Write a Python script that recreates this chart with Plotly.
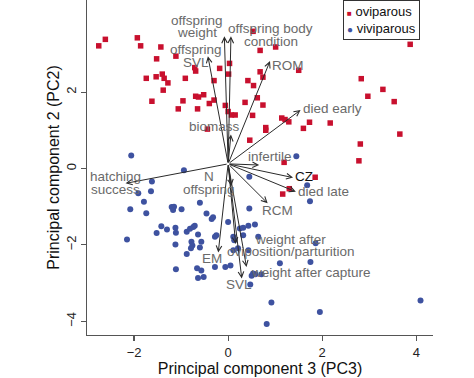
import plotly.graph_objects as go

# ---------------- data ----------------
ovi_x = [-2.75, -2.61, -1.93, -1.86, -1.43, -1.52, -1.11, -1.74, -1.53, -1.40,
         -1.36, -1.28, -1.38, -1.62, -0.96, -1.06, -0.91, -0.71, -0.69, -0.69,
         -0.63, -0.52, -0.65, -0.40, -0.30, -0.30, -0.18, 0.03, 0.01, -0.06,
         0.00, 0.07, 0.15, 0.53, 0.68, 1.01, 0.68, 0.74, 0.42, 0.54,
         0.62, 0.36, 0.74, 0.52, 1.14, 1.21, 1.29, 0.80, 0.80, -0.44,
         0.46, 1.50, 3.87, 2.83, 3.29, 2.97, 3.53, 1.73, 2.17, 1.60,
         3.65, 2.81, 2.78, 1.19, 1.85, 1.30, 1.16]
ovi_y = [3.21, 3.38, 3.42, 3.21, 3.18, 2.87, 2.94, 2.36, 2.40, 2.47,
         2.36, 2.24, 2.05, 1.76, 1.77, 1.56, 2.36, 2.64, 2.55, 1.89,
         1.87, 1.93, 1.56, 1.70, 1.79, 2.30, 2.62, 2.75, 2.47, 1.65,
         1.49, 1.40, 1.40, 3.59, 3.09, 3.18, 2.53, 2.39, 2.30, 2.17,
         1.85, 1.73, 1.66, 1.39, 1.32, 1.28, 1.22, 1.07, 1.00, 1.03,
         0.74, 2.57, 3.25, 2.35, 2.07, 1.89, 1.75, 1.21, 1.19, 1.05,
         0.90, 0.64, 0.20, 0.16, -0.23, -0.53, -0.67]

vivi_x = [-2.06, -0.94, -1.62, -1.91, -1.64, -1.79, -2.08, -1.74, -1.20, -1.15,
          -1.17, -0.99, -0.60, -0.46, -0.35, -0.32, 0.00, 0.45, 0.45, -1.42,
          -1.30, -1.12, -1.11, -0.88, -0.81, -0.74, -0.71, -0.64, -1.52, -2.15,
          -1.12, -0.78, -0.76, -0.79, -0.88, -0.57, -0.60, -0.25, -0.28, 0.25,
          0.32, 0.43, 0.57, 0.11, 0.13, 0.32, 0.64, 0.11, 0.43, -1.11,
          -0.66, -0.57, -0.64, -0.52, -0.28, -0.06, 0.05, 0.53, 0.50, 0.71,
          0.58, 0.47, 1.10, 0.92, 0.82, 1.45, 1.68, 1.74, 1.86, 1.75,
          1.95, 4.09, 0.21]
vivi_y = [0.34, -0.05, -0.34, -0.65, -0.60, -0.87, -1.07, -1.17, -1.01, -1.00,
          -1.09, -1.07, -0.90, -1.18, -1.32, -1.28, -1.40, -1.05, -0.22, -1.51,
          -1.60, -1.55, -1.68, -1.66, -1.58, -1.53, -1.50, -1.73, -1.69, -1.86,
          -1.99, -1.92, -2.02, -2.09, -2.24, -1.92, -2.07, -1.75, -1.79, -1.57,
          -1.55, -1.50, -1.47, -1.79, -1.88, -1.75, -1.79, -2.14, -2.14, -2.64,
          -2.61, -2.67, -2.87, -2.84, -2.58, -2.58, -2.54, -2.75, -2.81, -2.77,
          -2.77, -3.04, -2.48, -3.51, -4.07, 0.32, -0.44, -0.86, -1.96, -2.45,
          -3.76, -3.46, -2.09]

loading_names = ["offspring weight", "offspring body condition", "offspring SVL",
                 "ROM", "died early", "biomass", "infertile", "CZ", "died late",
                 "RCM", "hatching success", "N offspring", "EM",
                 "weight after oviposition/parturition", "weight after capture", "SVL"]
loading_x = [-0.08, 0.06, -0.43, 0.89, 1.54, 0.06, 0.66, 1.38, 1.44, 0.84,
             -2.18, 0.07, -0.21, 0.16, 0.39, 0.29]
loading_y = [3.46, 3.46, 2.94, 2.81, 1.53, 0.89, 0.09, -0.24, -0.61, -0.91,
             -0.39, -0.46, -2.20, -1.98, -2.58, -2.88]

label_lines = [["offspring", "weight"], ["offspring body", "condition"], ["offspring", "SVL"],
               ["ROM"], ["died early"], ["biomass"], ["infertile"], ["CZ"], ["died late"],
               ["RCM"], ["hatching", "success"], ["N", "offspring"], ["EM"],
               ["weight after", "oviposition/parturition"], ["weight after capture"], ["SVL"]]
label_x = [-0.67, 0.91, -0.68, 1.27, 2.22, -0.29, 0.89, 1.62, 2.03, 1.05,
           -2.39, -0.41, -0.35, 1.33, 1.77, 0.23]
label_y = [3.71, 3.50, 2.94, 2.70, 1.58, 1.11, 0.32, -0.22, -0.61, -1.10,
           -0.38, -0.38, -2.37, -2.02, -2.73, -3.05]

origin_x, origin_y = 0.0, 0.12

x_ticks = [-2, 0, 2, 4]
y_ticks = [-4, -2, 0, 2]

group_names = ["oviparous", "viviparous"]

# ---------------- styling ----------------
RED = "#c8102e"
BLUE = "#3e52a0"
FONT = "Arial, Liberation Sans, sans-serif"
GREY_TXT = "#6a6a6a"

fig = go.Figure()
fig.add_trace(go.Scatter(x=ovi_x, y=ovi_y, mode="markers", name=group_names[0],
                         marker=dict(symbol="square", size=5.5, color=RED)))
fig.add_trace(go.Scatter(x=vivi_x, y=vivi_y, mode="markers", name=group_names[1],
                         marker=dict(symbol="circle", size=6, color=BLUE)))

annotations = []
for name, lx, ly in zip(loading_names, loading_x, loading_y):
    annotations.append(dict(x=lx, y=ly, ax=origin_x, ay=origin_y, xref="x", yref="y",
                            axref="x", ayref="y", text="", showarrow=True,
                            arrowhead=5, arrowsize=1.1, arrowwidth=1,
                            arrowcolor="#2a2a2a", standoff=0, startstandoff=0))

LINE_GAP = 12.5
for lines, tx, ty in zip(label_lines, label_x, label_y):
    n = len(lines)
    for i, t in enumerate(lines):
        shift = ((n - 1) / 2 - i) * LINE_GAP
        annotations.append(dict(x=tx, y=ty, xref="x", yref="y", text=t, showarrow=False,
                                yshift=shift, xanchor="center", yanchor="middle",
                                font=dict(family=FONT, size=13.5,
                                          color="#111111" if t == "CZ" else GREY_TXT)))

# compact boxed legend (symbol + label), drawn as one text block
legend_text = (f"<span style='color:{RED};font-size:8px'>■</span> {group_names[0]}<br>"
               f"<span style='color:{BLUE};font-size:10px'>●</span> {group_names[1]}")
annotations.append(dict(x=0.9624, y=1.0, xref="paper", yref="paper",
                        xanchor="right", yanchor="top", showarrow=False, align="left",
                        text=legend_text, bgcolor="white", bordercolor="#333333",
                        borderwidth=1, borderpad=3,
                        font=dict(family=FONT, size=13, color="#111111")))

axis_common = dict(showline=True, linecolor="#555555", linewidth=1.2, mirror=False,
                   ticks="outside", ticklen=5, tickwidth=1.1, tickcolor="#555555",
                   showgrid=False, zeroline=False, automargin=False,
                   tickfont=dict(family=FONT, size=13, color="#222222"))

fig.update_layout(
    width=474, height=378,
    margin=dict(l=87, r=41, t=0, b=43),
    paper_bgcolor="white", plot_bgcolor="white",
    annotations=annotations,
    showlegend=False,
    hovermode=False,
    xaxis=dict(range=[-3.0, 4.355], tickvals=x_ticks, **axis_common,
               title=dict(text="Principal component 3 (PC3)", standoff=2,
                          font=dict(family=FONT, size=16, color="#111111"))),
    yaxis=dict(range=[-4.36, 4.41], tickvals=y_ticks, tickangle=-90, **axis_common,
               title=dict(text="Principal component 2 (PC2)", standoff=0,
                          font=dict(family=FONT, size=16, color="#111111"))),
)

fig.write_html("out.html",
               config={"displayModeBar": False, "staticPlot": True},
               post_script="document.body.style.margin='0';document.body.style.overflow='hidden';")
